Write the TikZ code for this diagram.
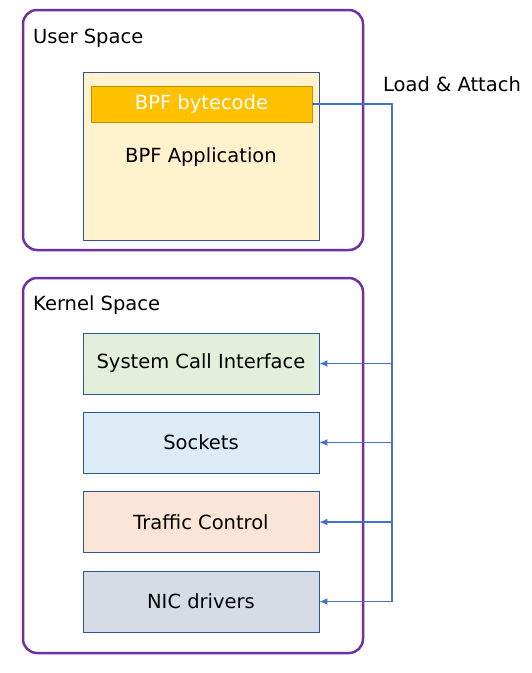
\documentclass[tikz,border=0pt]{standalone}
\usepackage{fontspec}
\setmainfont{DejaVu Sans}
\usetikzlibrary{arrows.meta}
\usetikzlibrary{arrows}
\definecolor{spacepurple}{HTML}{7030A0}
\definecolor{linkblue}{HTML}{4472C4}
\definecolor{boxedge}{HTML}{2F5597}
\definecolor{appfill}{HTML}{FFF2CC}
\definecolor{codefill}{HTML}{FFC000}
\definecolor{codeedge}{HTML}{BF9000}
\definecolor{sysfill}{HTML}{E2EFDA}
\definecolor{sockfill}{HTML}{DDEBF7}
\definecolor{tcfill}{HTML}{FBE5D6}
\definecolor{nicfill}{HTML}{D6DCE5}

\begin{document}
\begin{tikzpicture}[x=1pt,y=-1pt]
  \tikzset{space/.style = {shape=rectangle,draw=spacepurple,line width=2.5pt,rounded corners=14pt,minimum width=340pt,inner sep=0pt}}
  \tikzset{block/.style = {shape=rectangle,draw=boxedge,line width=0.8pt,minimum width=236pt,minimum height=61pt,inner sep=0pt,font=\fontsize{19.5}{23}\selectfont}}
  \tikzset{title/.style = {anchor=west,inner sep=0pt,font=\fontsize{19.5}{23}\selectfont}}
  \tikzset{wire/.style = {draw=linkblue,line width=1.5pt}}

  \useasboundingbox (0,0) rectangle (532,673);

	\node[space,minimum height=240pt] (user) at (193,130) {};
	\node[space,minimum height=375pt] (kernel) at (193,465.5) {};
	\node[title] (usertitle) at (33,38) {User Space};
	\node[title] (kerneltitle) at (33,305) {Kernel Space};

	\node[block,fill=appfill,minimum height=168pt] (app) at (201,156) {};
	\node[title,anchor=center] (apptitle) at (201,157) {BPF Application};
	\node[block,fill=codefill,draw=codeedge,text=white,minimum width=221pt,minimum height=36pt] (code) at (201.5,104) {BPF bytecode};

	\node[block,fill=sysfill] (sys) at (201,363.5) {System Call Interface};
	\node[block,fill=sockfill] (sock) at (201,442.5) {Sockets};
	\node[block,fill=tcfill] (tc) at (201,522) {Traffic Control};
	\node[block,fill=nicfill] (nic) at (201,601.5) {NIC drivers};

	\coordinate (top) at (392,104);
	\coordinate (bot) at (392,601.5);
	\node[title] (load) at (383,84) {Load \& Attach};

	\draw[wire] (code.east) -- (top) -- (bot);
       \foreach \to in {sys, sock, tc, nic}
    \draw[wire,-{Latex[length=8pt,width=7pt]}] (top |- \to.east) -- (\to.east);
\end{tikzpicture}
\end{document}
